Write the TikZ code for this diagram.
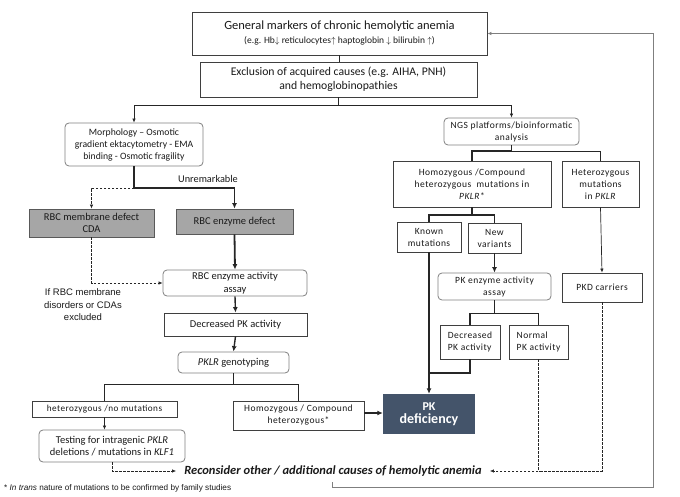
\documentclass[tikz,border=0pt]{standalone}
\usepackage{fontspec}
\setmainfont{Carlito}
\newfontfamily\arialf{Liberation Sans}
\newfontfamily\widef[LetterSpace=5]{Carlito}
\usetikzlibrary{arrows.meta}
\definecolor{bordc}{HTML}{3F3F3F}
\definecolor{roundc}{HTML}{808080}
\definecolor{grayfill}{HTML}{A6A6A6}
\definecolor{pkfill}{HTML}{44546A}
\definecolor{fbline}{HTML}{7F7F7F}
\definecolor{txt}{HTML}{1A1A1A}
\begin{document}
\begin{tikzpicture}[x=1pt,y=-1pt,
  sz/.style 2 args={minimum width=#1pt,minimum height=#2pt},
  box/.style={draw=bordc, line width=0.8pt, fill=white, align=center, inner sep=1pt, text=txt, font=\fontsize{10.5}{12.5}\selectfont},
  wbox/.style={box, font=\widef\fontsize{9.5}{12}\selectfont},
  rbox/.style={box, draw=roundc, rounded corners=4pt},
  gbox/.style={box, fill=grayfill, draw=black!65},
  conn/.style={line width=0.7pt, draw=black!85},
  thk/.style={line width=1.8pt},
  arr/.style={-{Latex[length=4pt,width=3.5pt]}},
  arrT/.style={-{Latex[length=5.5pt,width=5pt]}},
  dsh/.style={dash pattern=on 2.5pt off 1.5pt, line width=0.7pt, draw=black!85}]
\useasboundingbox (0,0) rectangle (680,497);
\fill[white] (0,0) rectangle (680,497);

% top boxes
\node[box, sz={295}{43}, font=\fontsize{12.5}{15}\selectfont] (gen) at (339.5,33.5)
  {General markers of chronic hemolytic anemia\\[-1pt]{\fontsize{9.5}{11}\selectfont (e.g. Hb$\downarrow$ reticulocytes$\uparrow$ haptoglobin $\downarrow$ bilirubin $\uparrow$)}};
\node[box, sz={277}{35}, font=\fontsize{11.7}{14}\selectfont] (excl) at (338.5,79.5)
  {Exclusion of acquired causes (e.g. AIHA, PNH)\\and hemoglobinopathies};

% left branch
\node[rbox, sz={138}{43}, font=\fontsize{9.7}{12}\selectfont] (morph) at (134,144.5)
  {Morphology -- Osmotic\\gradient ektacytometry - EMA\\binding - Osmotic fragility};
\node[gbox, sz={125}{28}] (memb) at (91.5,223) {RBC membrane defect\\CDA};
\node[gbox, sz={117}{25}] (enz) at (234.5,221.5) {RBC enzyme defect};
\node[font=\fontsize{10.3}{11}\selectfont, text=txt] (unrem) at (208,179) {Unremarkable};
\node[rbox, sz={144}{26}] (assay) at (235,283) {RBC enzyme activity\\assay};
\node[align=center, font=\arialf\fontsize{9.5}{12.5}\selectfont, text=txt] (ifrbc) at (83,305)
  {If RBC membrane\\disorders or CDAs\\excluded};
\node[box, sz={143}{23}] (decL) at (235.5,324.5) {Decreased PK activity};
\node[rbox, sz={111}{21}] (geno) at (233.5,362.5) {\textit{PKLR} genotyping};
\node[wbox, sz={145}{16}, font=\widef\fontsize{9.2}{12}\selectfont] (het) at (104.5,409) {heterozygous /no mutations};
\node[wbox, sz={131}{29}] (hom) at (298.5,415.5) {Homozygous / Compound\\heterozygous*};
\node[rbox, sz={146}{32}] (test) at (112,446)
  {Testing for intragenic \textit{PKLR}\\deletions / mutations in \textit{KLF1}};
\node[fill=pkfill, sz={92}{40}, align=center, text=white, inner sep=1pt] (pkdef) at (429,414)
  {{\bfseries\fontsize{12}{13}\selectfont PK}\\[1pt]{\bfseries\fontsize{14}{15}\selectfont deficiency}};

% right branch
\node[rbox, sz={135}{27}, font=\widef\fontsize{9.5}{12}\selectfont] (ngs) at (511.5,131.5)
  {NGS platforms/bioinformatic\\analysis};
\node[wbox, sz={158}{46}] (homR) at (472,184)
  {Homozygous /Compound\\heterozygous \ mutations in\\\textit{PKLR}*};
\node[wbox, sz={77}{46}] (hetR) at (600.5,184) {Heterozygous\\mutations\\in \textit{PKLR}};
\node[wbox, sz={64}{30}] (known) at (429,237) {Known\\mutations};
\node[wbox, sz={53}{30}] (newv) at (494.5,238) {New\\variants};
\node[rbox, sz={113}{27}, font=\widef\fontsize{9.5}{12}\selectfont] (pkassay) at (494.5,286.5) {PK enzyme activity\\assay};
\node[wbox, sz={80}{29}] (pkd) at (602,287.5) {PKD carriers};
\node[wbox, sz={60}{34}, align=left] (decR) at (470,342) {Decreased\\PK activity};
\node[wbox, sz={59}{34}, align=left] (norm) at (538.5,342) {Normal\\PK activity};

% bottom texts
\node[font=\bfseries\itshape\fontsize{12.5}{14}\selectfont, text=txt, inner xsep=8pt, inner ysep=1pt] (recon) at (333,471)
  {Reconsider other / additional causes of hemolytic anemia};
\node[anchor=west, font=\arialf\fontsize{8.2}{9}\selectfont, text=txt, inner sep=0pt] (foot) at (4,488)
  {* \textit{In trans} nature of mutations to be confirmed by family studies};
\coordinate (fbstart) at (332,482);

% connectors top
\draw[conn] (gen.south) -- (gen.south |- excl.north);
\draw[conn,arr] (excl.south) -- ++(0,8) -| (morph.north);
\draw[conn,arr] (excl.south) -- ++(0,8) -| (ngs.north);

% left connectors
\draw[conn,thk,arrT] (morph.south) -- ++(0,22) -| (enz.north);
\draw[dsh,arr] (morph.south |- 0,188) -| (memb.north);
\draw[conn,thk,arrT] (enz.south) -- (assay.north);
\draw[dsh,arr] (memb.south) |- (assay.west);
\draw[conn,line width=1.4pt,arrT] (assay.south) -- (decL.north);
\draw[conn,line width=1.4pt,arrT] (decL.south) -- (geno.north);
\draw[conn,thk] (geno.south) -- ++(0,11) -| (hom.north);
\draw[conn] (geno.south |- 0,384) -| (het.north);
\draw[conn,arr] (het.south) -- (test.north -| het.south);
\draw[conn,thk,arrT] (hom.east |- 0,413) -- (pkdef.west |- 0,413);
\draw[dsh,arr] (test.south) |- (recon.west);

% right connectors
\draw[conn,thk] (ngs.south) -- ++(0,6) -| (homR.north);
\draw[conn] (ngs.south |- 0,151) -| (hetR.north);
\draw[conn,thk] (homR.south) -- ++(0,8) -| (known.north);
\draw[conn,thk] (homR.south |- 0,215) -| (newv.north);
\draw[conn,thk,arrT] (known.south) -- (pkdef.north);
\draw[conn,thk,arrT] (newv.south) -- (pkassay.north);
\draw[conn,arr] (hetR.south) -- (pkd.north);
\draw[conn,thk] (pkassay.south) -- ++(0,13) -| (decR.north);
\draw[conn] (pkassay.south |- 0,313) -| (norm.north);
\draw[conn,thk] (decR.south) -- (decR.south |- 0,373) -- (known.south |- 0,373);
\draw[dsh,arr] (norm.south) |- (recon.east);
\draw[dsh] (pkd.south) |- (norm.south |- recon.east);

% feedback
\draw[fbline, line width=1pt, arr] (fbstart) |- (653,487) |- (gen.east);
\end{tikzpicture}
\end{document}
